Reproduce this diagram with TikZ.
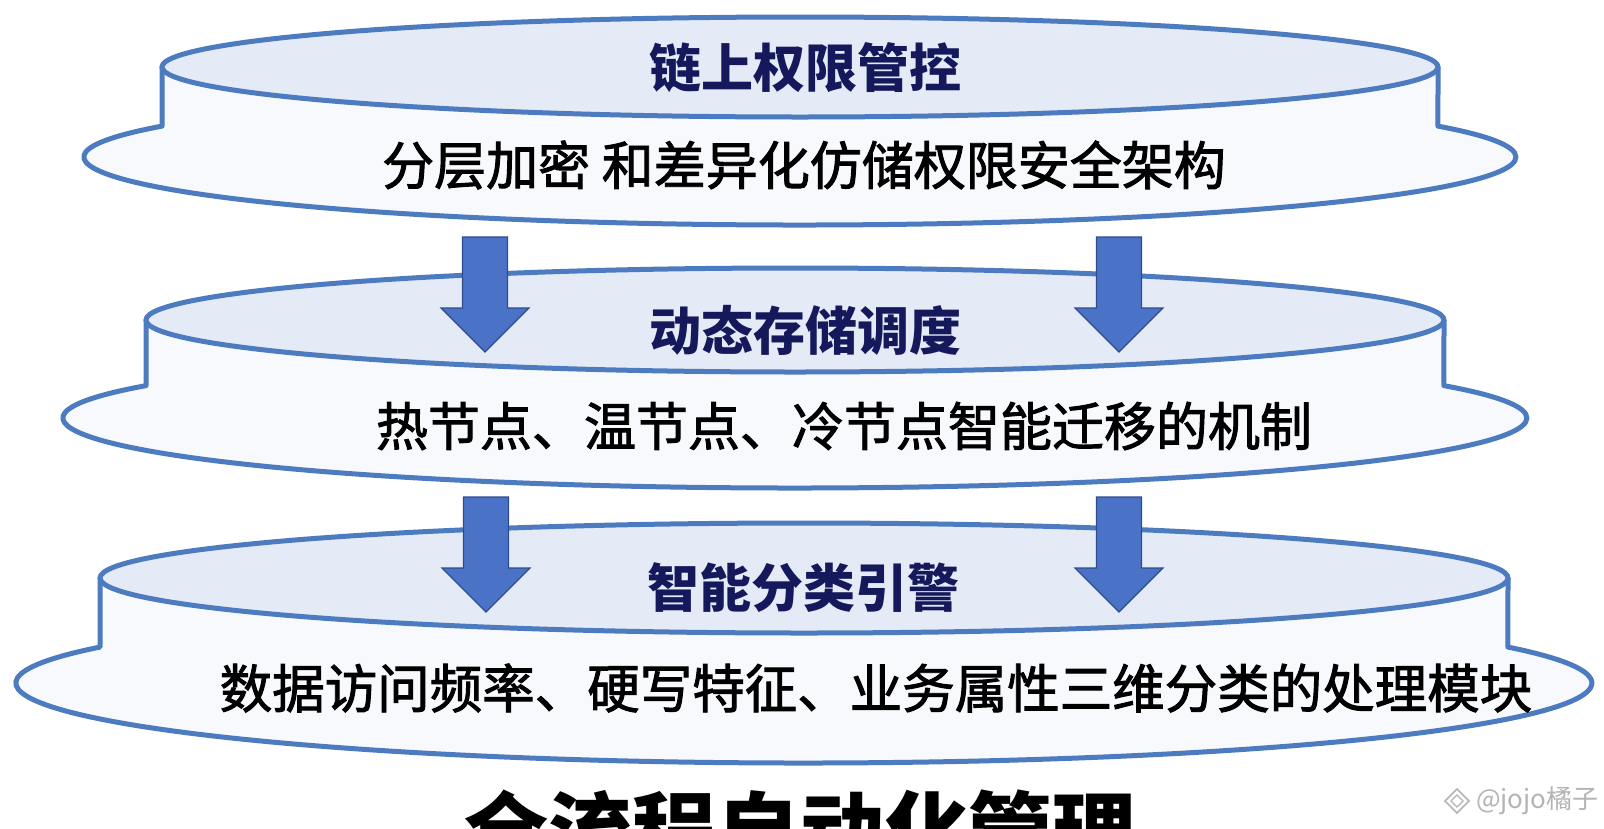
\documentclass[tikz,border=0pt]{standalone}
\usepackage{fontspec}
\setmainfont{Noto Sans CJK SC}
\newfontfamily\subfont{Noto Sans CJK SC}[FakeBold=1.8]
\definecolor{lineblue}{HTML}{4D7BBF}
\definecolor{topfill}{HTML}{E4EBF6}
\definecolor{sidefill}{HTML}{F7F9FD}
\definecolor{arrfill}{HTML}{4A72C6}
\definecolor{arrline}{HTML}{2E4C8C}
\definecolor{navy}{HTML}{15195C}
\definecolor{wmgray}{HTML}{B4B4B4}
\tikzset{
  layerline/.style={draw=lineblue, line width=5pt, line join=round},
  topstyle/.style={fill=topfill, draw=lineblue, line width=5pt},
  sidestyle/.style={fill=sidefill},
  arrowbox/.style={fill=arrfill, draw=arrline, line width=1.2pt, line join=miter},
  titletext/.style={font=\bfseries\fontsize{52}{60}\selectfont, text=navy, inner sep=0pt},
  subtext/.style={font=\subfont\fontsize{52}{60}\selectfont, text=black, inner sep=0pt},
  bigtext/.style={font=\bfseries\fontsize{84}{96}\selectfont, text=black, inner sep=0pt},
}
% #1 cx, #2 cy top, #3 rx top, #4 ry top, #5 cy bottom, #6 rx bottom, #7 ry bottom
\newcommand\cakelayer[7]{%
  \pgfmathsetmacro\phiang{acos(#3/#6)}%
  \pgfmathsetmacro\juncy{#5-#7*sin(\phiang)}%
  \fill[sidestyle] (#1,#5) ellipse[x radius=#6, y radius=#7];
  \fill[sidestyle] (#1-#3,#2) rectangle (#1+#3,#5);
  \draw[layerline] (#1-#3,#2) -- (#1-#3,\juncy)
     arc[start angle=180+\phiang, end angle=-\phiang, x radius=#6, y radius=#7]
     -- (#1+#3,#2);
  \filldraw[topstyle] (#1,#2) ellipse[x radius=#3, y radius=#4];
}
% #1 center x, #2 top y
\newcommand\blockarr[2]{%
  \draw[arrowbox] (#1-22.5,#2) -- (#1+22.5,#2) -- (#1+22.5,#2+71) -- (#1+44,#2+71)
    -- (#1,#2+115) -- (#1-44,#2+71) -- (#1-22.5,#2+71) -- cycle;
}
\begin{document}
\begin{tikzpicture}[x=1pt,y=-1pt]
\useasboundingbox (0,0) rectangle (1604,828);
\clip (0,0) rectangle (1604,828);
\fill[white] (0,0) rectangle (1604,828);

\cakelayer{800}{67}{638}{50}{157}{716}{68}
\cakelayer{795}{320}{649}{52}{418}{732}{70}
\cakelayer{804}{578}{704}{55}{683}{788}{80}

\blockarr{485}{237}
\blockarr{1119}{237}
\blockarr{486}{497}
\blockarr{1119}{497}

\node[titletext] (t1) at (805,68) {链上权限管控};
\node[subtext] (s1) at (804,165) {分层加密 和差异化仿储权限安全架构};
\node[titletext] (t2) at (805,330) {动态存储调度};
\node[subtext] (s2) at (844,426) {热节点、温节点、冷节点智能迁移的机制};
\node[titletext] (t3) at (803,588) {智能分类引警};
\node[subtext, font=\subfont\fontsize{52.5}{60}\selectfont] (s3) at (876,688) {数据访问频率、硬写特征、业务属性三维分类的处理模块};

\node[bigtext, anchor=base] (main) at (800,862) {全流程自动化管理};

\draw[wmgray, line width=1.5pt] (1457,789) -- (1469,801) -- (1457,813) -- (1445,801) -- cycle;
\draw[wmgray, line width=1.2pt] (1457,795) -- (1463,801) -- (1457,807) -- (1451,801) -- cycle;
\node[text=wmgray, font=\fontsize{26}{30}\selectfont, anchor=west, inner sep=0pt] (wm) at (1476,801) {@jojo橘子};
\end{tikzpicture}
\end{document}
